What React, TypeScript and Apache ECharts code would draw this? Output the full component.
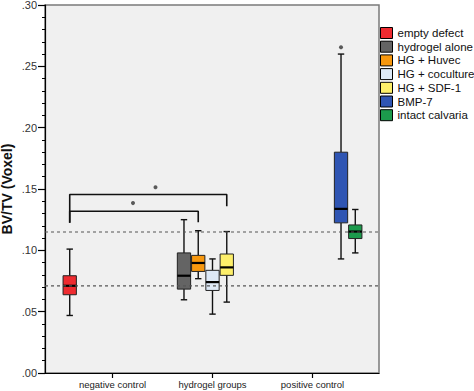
import React, { useEffect, useRef } from "react";
import * as echarts from "echarts";

const categories = ["negative control", "hydrogel groups", "positive control"];
const seriesNames = ["empty defect", "hydrogel alone", "HG + Huvec", "HG + coculture", "HG + SDF-1", "BMP-7", "intact calvaria"];
const seriesGroup = [0, 1, 1, 1, 1, 2, 2];
const seriesSlot = [0, 1, 2, 3, 4, 5, 6];
const seriesColors = ["#ee2b30", "#646464", "#f7980f", "#dde9f7", "#fdef6a", "#2f55b3", "#1c9a4c"];
// [min, q1, median, q3, max]
const boxStats = [
  [0.0469, 0.0638, 0.0711, 0.0793, 0.101],
  [0.0597, 0.0684, 0.0793, 0.0979, 0.125],
  [0.0769, 0.0828, 0.0897, 0.0959, 0.116],
  [0.048, 0.0673, 0.0741, 0.0837, 0.093],
  [0.0578, 0.0796, 0.0861, 0.097, 0.1153],
  [0.093, 0.1224, 0.1338, 0.18, 0.26],
  [0.0979, 0.1096, 0.1153, 0.1207, 0.1333],
];
const extremeSeries = [5];
const extremeValues = [0.2655];
const refLines = [0.115, 0.071];
// significance brackets
const bracketFrom = [0, 0];
const bracketTo = [4, 2];
const bracketTop = [0.1455, 0.1319];
const bracketLeftEnd = [0.1224, 0.1224];
const bracketRightEnd = [0.136, 0.1229];
const starX = [0.43, 0.205];
const starY = [0.1515, 0.1385];
const yTicks = [0, 0.05, 0.1, 0.15, 0.2, 0.25, 0.3];

const X_MIN = -0.675;
const X_MAX = 2.665;
const SLOT = 0.1426;
const BOXW = 0.133;
const FONT = "Arial, 'Liberation Sans', sans-serif";

const xOf = (i: number) => seriesGroup[i] + (seriesSlot[i] - 3) * SLOT;

export default function App() {
  const ref = useRef<HTMLDivElement>(null);
  useEffect(() => {
    document.body.style.margin = "0";
    const chart = echarts.init(ref.current!, null, { renderer: "svg" });

    const boxSeries = seriesNames.map((name, i) => ({
      name,
      type: "custom",
      z: 3,
      itemStyle: { color: seriesColors[i], borderColor: "#000", borderWidth: 1 },
      data: [[xOf(i), ...boxStats[i]]],
      encode: { x: 0, y: [1, 2, 3, 4, 5] },
      renderItem: (params: any, api: any) => {
        const x = api.value(0);
        const vals = [1, 2, 3, 4, 5].map((k) => api.value(k));
        const p = vals.map((v) => api.coord([x, v]));
        const cx = p[0][0];
        const hw = api.size([BOXW, 0])[0] / 2;
        const cap = 3.2;
        const ls = { stroke: "#111", lineWidth: 1.4 };
        return {
          type: "group",
          children: [
            { type: "line", shape: { x1: cx, y1: p[0][1], x2: cx, y2: p[1][1] }, style: ls },
            { type: "line", shape: { x1: cx, y1: p[3][1], x2: cx, y2: p[4][1] }, style: ls },
            { type: "line", shape: { x1: cx - cap, y1: p[0][1], x2: cx + cap, y2: p[0][1] }, style: ls },
            { type: "line", shape: { x1: cx - cap, y1: p[4][1], x2: cx + cap, y2: p[4][1] }, style: ls },
            {
              type: "rect",
              shape: { x: cx - hw, y: p[3][1], width: hw * 2, height: p[1][1] - p[3][1] },
              style: { fill: seriesColors[i], stroke: "#222", lineWidth: 1 },
            },
            { type: "line", shape: { x1: cx - hw, y1: p[2][1], x2: cx + hw, y2: p[2][1] }, style: { stroke: "#000", lineWidth: 2.2 } },
          ],
        };
      },
    }));

    const bracketSeries = bracketFrom.map((f, b) => ({
      type: "line",
      z: 4,
      symbol: "none",
      silent: true,
      lineStyle: { color: "#111", width: 1.6 },
      data: [
        [xOf(f), bracketLeftEnd[b]],
        [xOf(f), bracketTop[b]],
        [xOf(bracketTo[b]), bracketTop[b]],
        [xOf(bracketTo[b]), bracketRightEnd[b]],
      ],
    }));

    const refSeries = refLines.map((v) => ({
      type: "line",
      z: 6,
      symbol: "none",
      silent: true,
      lineStyle: { color: "#555", type: [3, 3], width: 1.1 },
      data: [
        [X_MIN, v],
        [X_MAX, v],
      ],
    }));

    const option: any = {
      animation: false,
      backgroundColor: "#fff",
      grid: {
        left: 45,
        top: 5,
        right: 95,
        bottom: 18,
        outerBoundsMode: "none",
        containLabel: false,
        show: true,
        backgroundColor: "#f0f0f0",
        borderColor: "#7a7a7a",
        borderWidth: 1.5,
      },
      legend: {
        orient: "vertical",
        left: 380,
        top: 27,
        padding: 0,
        itemWidth: 12,
        itemHeight: 11,
        itemGap: 1.7,
        icon: "rect",
        data: seriesNames,
        textStyle: { fontFamily: FONT, fontSize: 11.5, lineHeight: 11, color: "#111" },
        itemStyle: { borderColor: "#000", borderWidth: 1 },
      },
      xAxis: {
        type: "value",
        min: X_MIN,
        max: X_MAX,
        splitLine: { show: false },
        axisLine: { show: true, onZero: false, lineStyle: { color: "#000", width: 1.2 } },
        axisTick: { show: true, customValues: [0, 1, 2], length: 5, lineStyle: { color: "#000", width: 1.2 } },
        axisLabel: {
          customValues: [0, 1, 2],
          formatter: (v: number) => categories[Math.round(v)] ?? "",
          fontFamily: FONT,
          fontSize: 9.5,
          color: "#222",
          margin: 6,
        },
      },
      yAxis: {
        type: "value",
        min: 0,
        max: 0.3,
        interval: 0.05,
        name: "BV/TV (Voxel)",
        nameLocation: "middle",
        nameGap: 31,
        nameMoveOverlap: false,
        nameTextStyle: { fontFamily: FONT, fontSize: 14, fontWeight: "bold", color: "#111", lineHeight: 14 },
        splitLine: { show: false },
        axisLine: { show: true, onZero: false, lineStyle: { color: "#000", width: 1.2 } },
        axisTick: { show: true, length: 7, lineStyle: { color: "#000", width: 1.2 } },
        minorTick: { show: true, splitNumber: 5, length: 3, lineStyle: { color: "#000", width: 1 } },
        axisLabel: {
          fontFamily: FONT,
          fontSize: 11,
          color: "#333",
          margin: 8,
          formatter: (v: number) => (yTicks.some((t) => Math.abs(t - v) < 1e-9) ? v.toFixed(2).replace(/^0/, "") : ""),
        },
      },
      series: [
        ...boxSeries,
        ...bracketSeries,
        ...refSeries,
        {
          type: "scatter",
          z: 5,
          silent: true,
          symbol: "circle",
          symbolSize: 4,
          itemStyle: { color: "#333" },
          data: [
            ...extremeSeries.map((s, k) => [xOf(s), extremeValues[k]]),
            ...starX.map((x, k) => [x, starY[k]]),
          ],
        },
      ],
    };
    chart.setOption(option);
    return () => chart.dispose();
  }, []);
  return <div ref={ref} style={{ width: 474, height: 391 }} />;
}
